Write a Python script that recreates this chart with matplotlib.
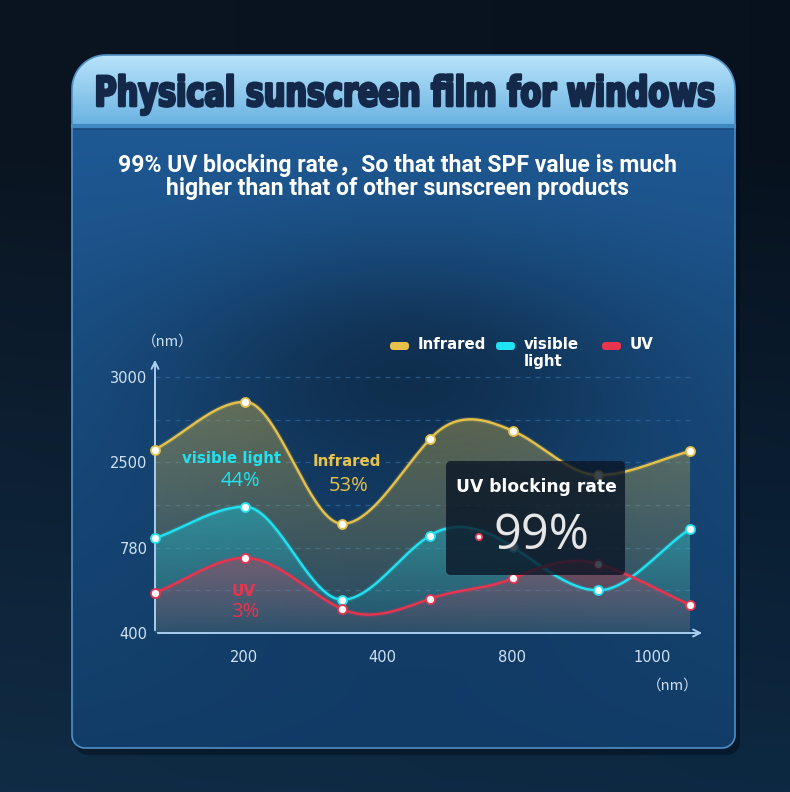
import numpy as np
import matplotlib
matplotlib.use("Agg")
import matplotlib.pyplot as plt
from matplotlib.path import Path
from matplotlib.patches import PathPatch, FancyBboxPatch, Circle
from matplotlib.transforms import Affine2D
import matplotlib.patheffects as pe

# ---------------- data ----------------
x_index = [0, 1.01, 2.10, 3.08, 4.01, 4.97, 6.0]
y_levels = [0, 1, 2, 3]
y_labels = ["400", "780", "2500", "3000"]
x_tick_pos = [1.0, 2.55, 4.0, 5.58]
x_tick_labels = ["200", "400", "800", "1000"]
infrared = [2.15, 2.71, 1.28, 2.27, 2.37, 1.85, 2.13]
visible = [1.11, 1.48, 0.39, 1.14, 1.01, 0.50, 1.22]
uv = [0.47, 0.88, 0.28, 0.40, 0.64, 0.81, 0.33]
series_names = ["Infrared", "visible\nlight", "UV"]
series_colors = ["#e6c24c", "#1fe3f2", "#e8344f"]

TITLE = "Physical sunscreen film for windows"
SUBTITLE = "99% UV blocking rate，So that that SPF value is much\nhigher than that of other sunscreen products"
SUBF = ["Roboto", "Noto Sans CJK SC", "DejaVu Sans"]
BOLD = ["DejaVu Sans"]
REG = ["Open Sans", "DejaVu Sans"]
UNIT_FONT = ["Noto Sans CJK SC", "DejaVu Sans"]

W, H = 790, 792
fig = plt.figure(figsize=(W / 100, H / 100), dpi=100)
bg = fig.add_axes([0, 0, 1, 1])
bg.set_xlim(0, W)
bg.set_ylim(H, 0)
bg.axis("off")

# ---- outer background ----
yy = np.linspace(0, 1, 400)[:, None]
xx = np.linspace(0, 1, 400)[None, :]
top = np.array([0.03, 0.07, 0.12])
bot = np.array([0.05, 0.16, 0.26])
t = np.clip((yy - 0.2) / 0.8, 0, 1)
outer = top + (bot - top) * t[..., None] * np.ones_like(xx)[..., None]
outer = outer + 0.012 * (1 - xx[..., None])
bg.imshow(np.clip(outer, 0, 1), extent=[0, W, H, 0], aspect="auto", zorder=0)


def rr_path(x0, y0, x1, y1, rt, rb, n=20):
    pts = []
    a = np.linspace(np.pi, 1.5 * np.pi, n)
    pts += list(zip(x0 + rt + rt * np.cos(a), y0 + rt + rt * np.sin(a)))
    a = np.linspace(1.5 * np.pi, 2 * np.pi, n)
    pts += list(zip(x1 - rt + rt * np.cos(a), y0 + rt + rt * np.sin(a)))
    a = np.linspace(0, 0.5 * np.pi, n)
    pts += list(zip(x1 - rb + rb * np.cos(a), y1 - rb + rb * np.sin(a)))
    a = np.linspace(0.5 * np.pi, np.pi, n)
    pts += list(zip(x0 + rb + rb * np.cos(a), y1 - rb + rb * np.sin(a)))
    pts.append(pts[0])
    codes = [Path.MOVETO] + [Path.LINETO] * (len(pts) - 2) + [Path.CLOSEPOLY]
    return Path(pts, codes)


PX0, PY0, PX1, PY1 = 72, 55, 735, 748
HDR = 128
panel_path = rr_path(PX0, PY0, PX1, PY1, 34, 13)

bg.add_patch(PathPatch(rr_path(PX0 + 3, PY0 + 5, PX1 + 5, PY1 + 7, 34, 13),
                       facecolor="#020a14", edgecolor="none", alpha=0.45, zorder=1))

gy = np.linspace(PY0, PY1, 500)[:, None]
gx = np.linspace(PX0, PX1, 500)[None, :]
tb = (gy - HDR) / (PY1 - HDR)
c_top = np.array([0.12, 0.35, 0.58])
c_bot = np.array([0.07, 0.24, 0.41])
body = c_top + (c_bot - c_top) * np.clip(tb, 0, 1)[..., None]
body = body * np.ones_like(gx)[..., None]
blob = np.exp(-(((gx - 410) / 230) ** 2 + ((gy - 370) / 120) ** 2))
body = body * (1 - 0.38 * blob[..., None])
blob2 = np.exp(-(((gx - 410) / 300) ** 2 + ((gy - 560) / 160) ** 2))
body = body * (1 - 0.12 * blob2[..., None])
th = np.clip((gy - PY0) / (HDR - PY0), 0, 1)
h_top = np.array([0.72, 0.89, 0.98])
h_bot = np.array([0.40, 0.69, 0.88])
hdr = h_top + (h_bot - h_top) * th[..., None]
hdr = hdr * np.ones_like(gx)[..., None]
mask = (gy < HDR)[..., None] * np.ones_like(gx)[..., None]
img = np.where(mask > 0, hdr, body)
im = bg.imshow(np.clip(img, 0, 1), extent=[PX0, PX1, PY1, PY0], aspect="auto", zorder=2)
im.set_clip_path(PathPatch(panel_path, transform=bg.transData))
bg.plot([PX0 + 1, PX1 - 1], [HDR - 2, HDR - 2], color="#3f88c2", lw=3, zorder=3)
bg.plot([PX0 + 1, PX1 - 1], [HDR + 0.5, HDR + 0.5], color="#1a4a7c", lw=1.2, zorder=3)
bg.add_patch(PathPatch(panel_path, facecolor="none", edgecolor="#4f8fc6", lw=1.2, zorder=4))


class Squeeze(pe.AbstractPathEffect):
    """Draw text glyphs scaled about a centre point (the text stays a text object)."""

    def __init__(self, cx, cy, sx, sy, stroke=0.0, color=None):
        super().__init__()
        self.cx, self.cy, self.sx, self.sy = cx, cy, sx, sy
        self.stroke, self.color = stroke, color

    def draw_path(self, renderer, gc, tpath, affine, rgbFace=None):
        aff = affine + Affine2D().translate(-self.cx, -self.cy).scale(self.sx, self.sy) \
            .translate(self.cx, self.cy)
        if self.stroke > 0:
            gc0 = renderer.new_gc()
            gc0.copy_properties(gc)
            gc0.set_linewidth(self.stroke)
            gc0.set_foreground(self.color)
            gc0.set_joinstyle("round")
            renderer.draw_path(gc0, tpath, aff, rgbFace)
            gc0.restore()
        renderer.draw_path(gc, tpath, aff, rgbFace)


# title
TITLE_CX, TITLE_CY, TITLE_W, TITLE_BOXW = 405, 95, 624, 655
title = bg.text(TITLE_CX, TITLE_CY, TITLE, ha="center", va="center", color="#14294a",
                family="DejaVu Sans", weight="bold", fontsize=27, zorder=5)
fig.canvas.draw()
tw = title.get_window_extent().width
title.set_fontsize(27 * TITLE_BOXW / tw)
fig.canvas.draw()
tb_ = title.get_window_extent()
cap_px = title.get_fontsize() * 100 / 72 * 0.729
title.set_path_effects([Squeeze(TITLE_CX, (tb_.y0 + tb_.y1) / 2, (TITLE_W - 3) / tb_.width,
                                30.0 / cap_px, stroke=2.0, color="#14294a")])

sub = bg.text(397, 177, SUBTITLE, ha="center", va="center", color="white",
              family=SUBF, weight="bold", fontsize=14, linespacing=1.0, zorder=5)
fig.canvas.draw()
sw = sub.get_window_extent().width
sub.set_fontsize(14 * 559 / sw)

# ---------------- chart ----------------
YPIX0, YPIX3 = 633, 377
unit_y = (YPIX0 - YPIX3) / 3
XPIX0, XPIX6 = 155, 690
unit_x = (XPIX6 - XPIX0) / 6
ax_left, ax_right, ax_top = 155, 705, 357
xmax = (ax_right - XPIX0) / unit_x
ymax = (YPIX0 - ax_top) / unit_y
ax = fig.add_axes([ax_left / W, 1 - YPIX0 / H, (ax_right - ax_left) / W, (YPIX0 - ax_top) / H])
ax.patch.set_alpha(0)
for s in ax.spines.values():
    s.set_visible(False)

ax.set_yticks(y_levels)
ax.set_yticklabels(y_labels)
ax.set_xticks(x_tick_pos)
ax.set_xticklabels(x_tick_labels)
ax.tick_params(length=0, colors="#cfe2f5", labelsize=10.5, pad=5.5)
ax.tick_params(axis="x", pad=12)
for lab in ax.get_xticklabels() + ax.get_yticklabels():
    lab.set_family("DejaVu Sans")

for gl in np.arange(0.5, 3.01, 0.5):
    ax.plot([0, 6.05], [gl, gl], color="#2e6aa6", lw=0.9, ls=(0, (4, 4)), alpha=0.7, zorder=1)

arrow = dict(arrowstyle="->,head_length=0.5,head_width=0.25", color="#a9cdee", lw=1.4)
ax.annotate("", xy=(xmax, 0), xytext=(0, 0), arrowprops=arrow, annotation_clip=False, zorder=6)
ax.annotate("", xy=(0, ymax), xytext=(0, 0), arrowprops=arrow, annotation_clip=False, zorder=6)


def smooth(xs, ys, k=1.0, thr=0.25, n=40):
    xs = np.asarray(xs, float)
    ys = np.asarray(ys, float)
    m = np.zeros_like(ys)
    for i in range(1, len(ys) - 1):
        d0 = ys[i] - ys[i - 1]
        d1 = ys[i + 1] - ys[i]
        if d0 * d1 < 0 and abs(d0) > thr and abs(d1) > thr:
            m[i] = 0.0
        else:
            m[i] = 2 * k * (ys[i + 1] - ys[i - 1]) / (xs[i + 1] - xs[i - 1])
    m[0] = (ys[1] - ys[0]) / (xs[1] - xs[0])
    m[-1] = (ys[-1] - ys[-2]) / (xs[-1] - xs[-2])
    ox, oy = [], []
    for i in range(len(xs) - 1):
        h = xs[i + 1] - xs[i]
        tt = np.linspace(0, 1, n, endpoint=(i == len(xs) - 2))
        h00 = 2 * tt**3 - 3 * tt**2 + 1
        h10 = tt**3 - 2 * tt**2 + tt
        h01 = -2 * tt**3 + 3 * tt**2
        h11 = tt**3 - tt**2
        ox.append(xs[i] + tt * h)
        oy.append(h00 * ys[i] + h10 * h * m[i] + h01 * ys[i + 1] + h11 * h * m[i + 1])
    return np.concatenate(ox), np.concatenate(oy)


fills = [("#d9bb4a", 0.40, 0.10), ("#14c4dc", 0.45, 0.08), ("#e0344f", 0.38, 0.05)]
for idx, (ys, col, (fc, a_top, a_bot)) in enumerate(zip([infrared, visible, uv], series_colors, fills)):
    sx, sy = smooth(x_index, ys)
    top_v = max(sy)
    grad = np.linspace(a_bot, a_top, 256)[:, None]
    rgba = np.zeros((256, 1, 4))
    rgba[..., :3] = matplotlib.colors.to_rgb(fc)
    rgba[..., 3] = grad
    gim = ax.imshow(rgba, extent=[x_index[0], x_index[-1], 0, top_v], origin="lower",
                    aspect="auto", zorder=2 + idx)
    poly = np.vstack([np.column_stack([sx, sy]), [[x_index[-1], 0], [x_index[0], 0]]])
    gim.set_clip_path(PathPatch(Path(poly), transform=ax.transData))
    ax.plot(sx, sy, color=col, lw=3.5, alpha=0.18, zorder=5 + idx)
    ax.plot(sx, sy, color=col, lw=1.7, zorder=5 + idx, solid_capstyle="round")
    ax.plot(x_index, ys, ls="none", marker="o", ms=6.5, mfc="white", mec=col, mew=1.3,
            zorder=8 + idx, clip_on=False)

ax.set_xlim(0, xmax)
ax.set_ylim(0, ymax)

# overlay for annotations
ov = fig.add_axes([0, 0, 1, 1])
ov.set_xlim(0, W)
ov.set_ylim(H, 0)
ov.axis("off")
ov.patch.set_alpha(0)
ov.add_patch(FancyBboxPatch((446, 461), 179, 114, boxstyle="round,pad=0,rounding_size=5",
                            facecolor="#0a1626", edgecolor="none", alpha=0.8, zorder=2))
ov.text(536, 487, "UV blocking rate", ha="center", va="center", color="white",
        family=BOLD, weight="bold", fontsize=12.3, zorder=3)
ov.text(541, 536, "99%", ha="center", va="center", color="#e6e6e6",
        family=REG, fontsize=35, zorder=3)
ov.add_patch(Circle((479, 537), 3.2, facecolor="white", edgecolor="#e8344f", lw=1.3, zorder=3))

ov.text(232, 458, "visible light", ha="center", va="center", color="#1fe3f2",
        family=BOLD, weight="bold", fontsize=10.8, zorder=3)
ov.text(240, 481, "44%", ha="center", va="center", color="#1fe3f2",
        family=REG, fontsize=14.5, zorder=3)
ov.text(347, 462, "Infrared", ha="center", va="center", color="#e6c24c",
        family=BOLD, weight="bold", fontsize=10.8, zorder=3)
ov.text(349, 486, "53%", ha="center", va="center", color="#e6c24c",
        family=REG, fontsize=14.5, zorder=3)
ov.text(244, 591, "UV", ha="center", va="center", color="#e8344f",
        family=BOLD, weight="bold", fontsize=11, zorder=3)
ov.text(245, 612, "3%", ha="center", va="center", color="#e8344f",
        family=REG, fontsize=14.5, zorder=3)

ov.text(168, 342, "（nm）", ha="center", va="center", color="#cfe2f5",
        family=UNIT_FONT, fontsize=10.5, zorder=3)
ov.text(673, 686, "（nm）", ha="center", va="center", color="#cfe2f5",
        family=UNIT_FONT, fontsize=10.5, zorder=3)

leg_x = [390, 496, 602]
for lx, name, col in zip(leg_x, series_names, series_colors):
    ov.add_patch(FancyBboxPatch((lx, 342), 19, 8, boxstyle="round,pad=0,rounding_size=3.5",
                                facecolor=col, edgecolor="none", zorder=3))
    ov.text(lx + 28, 337, name, ha="left", va="top", color="white",
            family=BOLD, weight="bold", fontsize=10.8, linespacing=1.15, zorder=3)

fig.savefig("out.png", dpi=100)
